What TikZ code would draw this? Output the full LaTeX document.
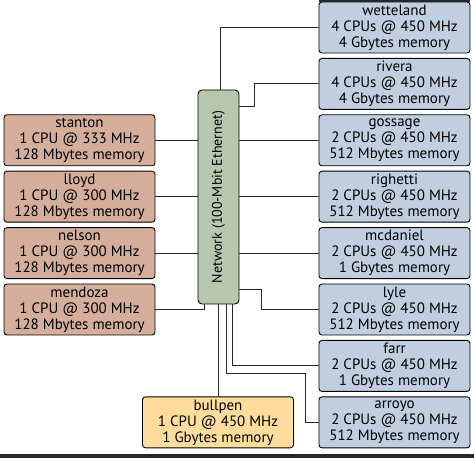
\documentclass[tikz,border=0pt]{standalone}
\usepackage{fontspec}
\setmainfont{PT Sans}
\usepackage{tikz}
\usetikzlibrary{shapes,positioning}
\definecolor{hostred}{RGB}{212,174,154}
\definecolor{hostblue}{RGB}{192,206,224}
\definecolor{netgreen}{RGB}{185,198,174}
\definecolor{hostyellow}{RGB}{253,220,156}
\tikzset{
  host/.style={draw, rectangle, rounded corners=3pt, line width=0.9pt, minimum width=151, minimum height=51,
    align=center, inner sep=1pt, font=\fontsize{15}{16}\selectfont},
  wire/.style={line width=0.9pt, draw=black!85}
}

\begin{document}
\begin{tikzpicture}[x=1pt, y=-1pt]
        \useasboundingbox (0,0) rectangle (474,470);
        \fill[black!85] (319,0) rectangle (470,2.5);

        \node[draw, rectangle, rounded corners=4pt, line width=0.9pt, fill=netgreen, minimum width=41, minimum height=214,
          inner sep=0pt, font=\fontsize{14}{16}\selectfont] (net) at (218.5,197) {\rotatebox{90}{Network (100-Mbit Ethernet)}};

        \node[host, fill=hostblue] (wetteland) at (394.5,27.5) {wetteland\\4 CPUs @ 450 MHz\\4 Gbytes memory};
        \node[host, fill=hostblue] (rivera) at (394.5,83.9) {rivera\\4 CPUs @ 450 MHz\\4 Gbytes memory};
        \node[host, fill=hostblue] (gossage) at (394.5,140.3) {gossage\\2 CPUs @ 450 MHz\\512 Mbytes memory};
        \node[host, fill=hostblue] (righetti) at (394.5,196.7) {righetti\\2 CPUs @ 450 MHz\\512 Mbytes memory};
        \node[host, fill=hostblue] (mcdaniel) at (394.5,253.1) {mcdaniel\\2 CPUs @ 450 MHz\\1 Gbytes memory};
        \node[host, fill=hostblue] (lyle) at (394.5,309.5) {lyle\\2 CPUs @ 450 MHz\\512 Mbytes memory};
        \node[host, fill=hostblue] (farr) at (394.5,365.9) {farr\\2 CPUs @ 450 MHz\\1 Gbytes memory};
        \node[host, fill=hostblue] (arroyo) at (394.5,422.3) {arroyo\\2 CPUs @ 450 MHz\\512 Mbytes memory};

        \node[host, fill=hostred] (stanton) at (79.5,140.3) {stanton\\1 CPU @ 333 MHz\\128 Mbytes memory};
        \node[host, fill=hostred] (lloyd) at (79.5,196.7) {lloyd\\1 CPU @ 300 MHz\\128 Mbytes memory};
        \node[host, fill=hostred] (nelson) at (79.5,253.1) {nelson\\1 CPU @ 300 MHz\\128 Mbytes memory};
        \node[host, fill=hostred] (mendoza) at (79.5,309.5) {mendoza\\1 CPU @ 300 MHz\\128 Mbytes memory};

        \node[host, fill=hostyellow] (bullpen) at (218,422.3) {bullpen\\1 CPU @ 450 MHz\\1 Gbytes memory};

        \coordinate (arroyobend) at (305,373);

        \draw[wire] ([xshift=1.5pt]net.north) |- (wetteland.west);
        \draw[wire] ([yshift=91pt]net.east) -- ++(15,0) |- (rivera.west);
        \draw[wire] (gossage.west) -- (gossage.west -| net.east);
        \draw[wire] (righetti.west) -- (righetti.west -| net.east);
        \draw[wire] (mcdaniel.west) -- (mcdaniel.west -| net.east);
        \draw[wire] ([yshift=-92pt]net.east) -- ++(22,0) |- (lyle.west);
        \draw[wire] ([xshift=13.5pt]net.south) |- (farr.west);
        \draw[wire] ([xshift=7.5pt]net.south) |- (arroyobend) |- (arroyo.west);
        \draw[wire] (bullpen.north) -- (bullpen.north |- net.south);

        \draw[wire] (stanton.east) -- (stanton.east -| net.west);
        \draw[wire] (lloyd.east) -- (lloyd.east -| net.west);
        \draw[wire] (nelson.east) -- (nelson.east -| net.west);
        \draw[wire] (mendoza.east) -| ([xshift=-14.5pt]net.south);

        \fill[black!85] (0,454) rectangle (474,457.5);
    \end{tikzpicture}
\end{document}
